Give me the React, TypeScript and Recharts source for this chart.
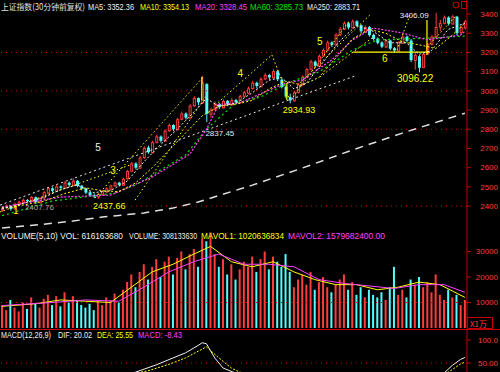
import React from "react";
import {
  Bar,
  Cell,
  ComposedChart,
  Line,
  ReferenceDot,
  ReferenceLine,
  XAxis,
  YAxis,
} from "recharts";

const UP = "#ff3c3c";
const DOWN = "#54fcfc";
const YEL = "#ffff00";
const MAG = "#ff40ff";
const GRN = "#00e600";
const AXIS = "#c00000";
const LABEL = "#ff3a3a";
const FONT = "'Liberation Sans', Arial, sans-serif";

// candles (index points, 上证指数)
const opens = [
  2378, 2392, 2402, 2386, 2408, 2418, 2432, 2424, 2446, 2418,
  2442, 2468, 2492, 2478, 2502, 2494, 2522, 2508, 2532, 2506,
  2492, 2472, 2456, 2448, 2462, 2474, 2488, 2506, 2522, 2508,
  2542, 2582, 2622, 2598, 2652, 2705, 2678, 2732, 2762, 2738,
  2792, 2822, 2798, 2852, 2882, 2858, 2922, 2962, 2938, 3035,
  2878, 2902, 2932, 2912, 2948, 2928, 2952, 2938, 2972, 2988,
  3012, 3042, 3022, 3062, 3082, 3068, 3102, 3058, 3022, 2968,
  2948, 2992, 3032, 3072, 3112, 3152, 3128, 3182, 3212, 3252,
  3238, 3292, 3322, 3352, 3328, 3362, 3342, 3308, 3332, 3292,
  3272, 3252, 3228, 3262, 3222, 3208, 3248, 3282, 3262, 3158,
  3180, 3122, 3192, 3242, 3282, 3332, 3352, 3382, 3348, 3386,
  3302, 3328,
];
const highs = [
  2398, 2408, 2405, 2418, 2428, 2440, 2436, 2452, 2450, 2445,
  2478, 2500, 2498, 2512, 2508, 2530, 2528, 2542, 2536, 2510,
  2495, 2478, 2466, 2468, 2484, 2498, 2512, 2528, 2526, 2548,
  2588, 2630, 2628, 2660, 2712, 2715, 2740, 2772, 2768, 2800,
  2830, 2826, 2860, 2892, 2888, 2930, 2972, 2966, 3078, 3040,
  2912, 2945, 2938, 2955, 2952, 2962, 2958, 2980, 3000, 3022,
  3052, 3048, 3072, 3092, 3088, 3112, 3108, 3064, 3030, 2985,
  3000, 3040, 3080, 3120, 3162, 3158, 3190, 3222, 3262, 3258,
  3302, 3332, 3362, 3358, 3372, 3368, 3346, 3340, 3338, 3298,
  3278, 3258, 3268, 3266, 3228, 3258, 3292, 3288, 3270, 3200,
  3186, 3200, 3250, 3290, 3406.09, 3370, 3392, 3388, 3396, 3390,
  3340, 3370,
];
const lows = [
  2370, 2384, 2376, 2382, 2400, 2412, 2415, 2420, 2410, 2412,
  2436, 2462, 2470, 2474, 2484, 2490, 2500, 2502, 2498, 2482,
  2462, 2448, 2442, 2437.66, 2455, 2468, 2482, 2500, 2502, 2505,
  2538, 2576, 2590, 2594, 2646, 2672, 2674, 2726, 2730, 2734,
  2786, 2790, 2794, 2846, 2850, 2854, 2916, 2925, 2932, 2837.45,
  2860, 2895, 2905, 2908, 2920, 2924, 2930, 2934, 2966, 2982,
  3006, 3012, 3018, 3055, 3058, 3064, 3050, 3012, 2960, 2934.93,
  2944, 2986, 3026, 3066, 3106, 3120, 3124, 3176, 3206, 3228,
  3234, 3286, 3316, 3320, 3324, 3332, 3300, 3302, 3282, 3262,
  3242, 3222, 3222, 3212, 3200, 3204, 3244, 3252, 3150, 3110,
  3096.22, 3118, 3186, 3236, 3276, 3310, 3346, 3340, 3344, 3290,
  3296, 3320,
];
const closes = [
  2390, 2400, 2385, 2410, 2420, 2430, 2425, 2445, 2420, 2440,
  2470, 2490, 2480, 2500, 2495, 2520, 2510, 2530, 2505, 2490,
  2470, 2455, 2450, 2460, 2475, 2490, 2505, 2520, 2510, 2540,
  2580, 2620, 2600, 2650, 2700, 2680, 2730, 2760, 2740, 2790,
  2820, 2800, 2850, 2880, 2860, 2920, 2960, 2940, 3040, 2880,
  2900, 2930, 2915, 2945, 2930, 2950, 2940, 2970, 2990, 3010,
  3040, 3025, 3060, 3080, 3070, 3100, 3060, 3020, 2970, 2950,
  2990, 3030, 3070, 3110, 3150, 3130, 3180, 3210, 3250, 3240,
  3290, 3320, 3350, 3330, 3360, 3340, 3310, 3330, 3290, 3270,
  3250, 3230, 3260, 3220, 3210, 3250, 3280, 3260, 3160, 3185,
  3120, 3190, 3240, 3280, 3330, 3350, 3380, 3350, 3385, 3300,
  3330, 3360,
];
// volume, 万
const volumes = [
  9000, 7000, 11000, 8000, 6500, 10000, 7500, 12000, 9500, 8000,
  11500, 13000, 9000, 12500, 8500, 14000, 10000, 12500, 11000, 9000,
  8000, 9500, 7000, 10500, 9000, 12000, 11000, 13500, 10000, 15000,
  18000, 21000, 16000, 22000, 25000, 19000, 24000, 27000, 20000, 26000,
  28000, 21000, 27500, 30000, 23000, 29000, 31000, 24000, 35000, 34000,
  37500, 29000, 24000, 27000, 21000, 25000, 19000, 23000, 26000, 24000,
  28000, 22000, 27000, 30000, 23000, 28000, 26000, 24000, 29000, 22000,
  16000, 19000, 21000, 17000, 22000, 15000, 18000, 20000, 16000, 14000,
  17000, 19000, 21000, 15000, 18000, 13000, 16000, 12000, 15000, 13000,
  12000, 14000, 11000, 16000, 24000, 13000, 15000, 12000, 19000, 17000,
  20000, 16000, 18000, 14000, 21000, 13000, 11000, 15000, 12000, 13000,
  9000, 11000,
];

// moving averages at a few bars: [bar, value]
const ma5Pts: [number, number][] = [
  [0, 2388], [2, 2395], [6, 2420], [10, 2445], [14, 2485], [18, 2510], [22, 2470],
  [26, 2480], [30, 2530], [34, 2630], [38, 2720], [42, 2800], [46, 2890], [49, 2960],
  [52, 2920], [56, 2935], [60, 2990], [64, 3055], [67, 3070], [70, 3010], [73, 3040],
  [77, 3150], [81, 3260], [85, 3340], [89, 3310], [93, 3250], [97, 3250], [100, 3190],
  [103, 3210], [107, 3320], [111, 3352.36],
];
const ma10Pts: [number, number][] = [
  [0, 2390], [5, 2405], [10, 2425], [15, 2465], [20, 2495], [24, 2480], [28, 2475],
  [32, 2520], [36, 2600], [40, 2690], [44, 2780], [48, 2870], [52, 2920], [56, 2930],
  [60, 2950], [64, 3010], [68, 3050], [72, 3030], [76, 3070], [80, 3170], [84, 3270],
  [88, 3320], [92, 3300], [96, 3255], [100, 3240], [104, 3220], [108, 3290], [111, 3354.13],
];
const ma20Pts: [number, number][] = [
  [0, 2395], [14, 2447], [26, 2457], [36, 2551], [45, 2670], [49, 2800], [52, 2930],
  [57, 2937], [68, 3041], [72, 3056], [79, 3160], [84, 3265], [89, 3327], [96, 3301],
  [102, 3265], [110, 3291], [111, 3310],
];
const ma60Pts: [number, number][] = [
  [0, 2350], [12, 2426], [27, 2468], [32, 2509], [38, 2588], [44, 2666], [49, 2800],
  [56, 2936], [62, 2968], [69, 3046], [76, 3098], [84, 3212], [90, 3265], [96, 3270],
  [103, 3275], [111, 3285.73],
];
const ma250Pts: [number, number][] = [
  [0, 2286], [8, 2301], [17, 2322], [24, 2343], [34, 2364], [41, 2390], [47, 2421],
  [60, 2509], [72, 2598], [84, 2692], [96, 2780], [111, 2883.71],
];
const mavol1Pts: [number, number][] = [
  [0, 8500], [8, 9500], [14, 11000], [20, 10500], [26, 10000], [31, 16000], [36, 22000],
  [41, 25000], [46, 29000], [50, 32000], [55, 26000], [60, 24000], [65, 26000],
  [70, 22000], [75, 19000], [80, 17000], [85, 17000], [90, 15000], [95, 16000],
  [100, 18000], [105, 17000], [111, 12000],
];
const mavol2Pts: [number, number][] = [
  [0, 8800], [12, 10000], [20, 11000], [28, 10500], [34, 16000], [40, 22000],
  [46, 26000], [52, 29000], [58, 25000], [64, 25000], [70, 24000], [76, 19000],
  [82, 17500], [88, 16500], [94, 15500], [100, 17000], [106, 17000], [111, 14000],
];
const difPts: [number, number][] = [
  [0, 5], [20, 10], [32, 30], [37, 46], [41, 61], [44, 72], [47, 88], [48, 94], [49, 92],
  [51, 61], [53, 39], [56, 28], [60, 22], [70, 10], [80, 15], [90, 12], [100, 5],
  [106, 28], [108, 45], [110, 58], [111, 62],
];
const deaPts: [number, number][] = [
  [0, 3], [20, 8], [35, 33], [40, 47], [44, 61], [49, 85], [52, 61], [55, 39], [57, 30],
  [65, 20], [80, 14], [100, 8], [107, 30], [110, 48], [111, 52],
];

const priceTicks = [2400, 2500, 2600, 2700, 2800, 2900, 3000, 3100, 3200, 3300, 3400];
const priceDotted = [2400, 2800, 3000, 3200];
const volTicks = [10000, 20000, 30000];
const macdTicks = [50, 100];

// drawing objects on the price panel: [bar, price] pairs
const yellowDots: [number, number][][] = [
  [[22.3, 2442], [48.2, 3072]],
  [[31.9, 2431], [49.1, 2978]],
  [[-0.5, 2369], [30.7, 2614]],
  [[51.1, 2926], [64.7, 3187]],
  [[64.7, 3187], [69.0, 2952]],
  [[69.8, 2968], [83.4, 3369]],
  [[71.4, 3041], [88.2, 3395]],
  [[76.2, 3072], [89.0, 3280]],
  [[94.7, 3212], [97.8, 3395]],
  [[101.9, 3228], [109.1, 3395]],
];
const yellowSolid: [number, number][][] = [
  [[84.2, 3202], [102.6, 3202]],
  [[101.9, 3369], [101.9, 3187]],
  [[47.9, 3072], [47.9, 2952]],
  [[68.3, 3041], [68.3, 2952]],
];
const whiteTrend: [number, number][] = [[-0.5, 2405], [84.6, 3077]];

type Mark = { i: number; p: number; text: string; color: string; dx: number; dy: number; size: number; anchor?: string };
const marks: Mark[] = [
  { i: 5, p: 2412, text: "2407.76", color: "#a8a8a8", dx: 2, dy: 6, size: 8 },
  { i: 23, p: 2437.66, text: "2437.66", color: YEL, dx: -5, dy: 10, size: 9 },
  { i: 49, p: 2837.45, text: "2837.45", color: "#e8e8e8", dx: -1, dy: 14, size: 8 },
  { i: 69, p: 2934.93, text: "2934.93", color: YEL, dx: -7, dy: 10, size: 9 },
  { i: 100, p: 3096.22, text: "3096.22", color: YEL, dx: -22, dy: 10, size: 10 },
  { i: 104, p: 3406.09, text: "3406.09", color: "#f0f0f0", dx: -36, dy: 5, size: 8 },
  { i: 3.3, p: 2379, text: "1", color: YEL, dx: 0, dy: 4, size: 10, anchor: "middle" },
  { i: 26.6, p: 2588, text: "3", color: YEL, dx: 0, dy: 4, size: 10, anchor: "middle" },
  { i: 23, p: 2707, text: "5", color: "#f0f0f0", dx: 0, dy: 4, size: 10, anchor: "middle" },
  { i: 57.1, p: 3093, text: "4", color: YEL, dx: 0, dy: 4, size: 10, anchor: "middle" },
  { i: 76.2, p: 3259, text: "5", color: YEL, dx: 0, dy: 4, size: 10, anchor: "middle" },
  { i: 91.8, p: 3171, text: "6", color: YEL, dx: 0, dy: 4, size: 10, anchor: "middle" },
];

const N = closes.length;

const rows = closes.map((c, i) => ({
  i,
  range: [lows[i], highs[i]],
  o: opens[i],
  h: highs[i],
  l: lows[i],
  c,
  up: c >= opens[i],
  v: volumes[i],
}));

const pts = (p: [number, number][]) => p.map(([i, v]) => ({ i, v }));

function Candle(props: any) {
  const { x, y, width, height, payload } = props;
  if (!payload) return null;
  const { o, c, h, l, up } = payload;
  const color = up ? UP : DOWN;
  const k = height / (h - l || 1);
  const yo = y + (h - o) * k;
  const yc = y + (h - c) * k;
  const top = Math.min(yo, yc);
  const bh = Math.max(Math.abs(yc - yo), 1);
  const cx = x + width / 2;
  return (
    <g>
      <line x1={cx} x2={cx} y1={y} y2={y + height} stroke={color} strokeWidth={1} />
      {up ? (
        <rect x={x + 0.5} y={top} width={width - 1} height={bh} fill="#000" stroke={color} strokeWidth={1} />
      ) : (
        <rect x={x} y={top} width={width} height={bh} fill={color} />
      )}
    </g>
  );
}

function markShape(m: Mark) {
  return (p: any) => (
    <text
      x={p.cx + m.dx}
      y={p.cy + m.dy}
      fill={m.color}
      fontSize={m.size}
      fontFamily={FONT}
      textAnchor={m.anchor || "start"}
    >
      {m.text}
    </text>
  );
}

const xAxis = <XAxis dataKey="i" type="number" domain={[-0.5, N - 0.5]} hide allowDataOverflow />;

function rightAxis(domain: number[], ticks: number[], fmt: (v: number) => string = (v) => String(v)) {
  return (
    <YAxis
      orientation="right"
      width={33}
      domain={domain}
      ticks={ticks}
      interval={0}
      allowDataOverflow
      axisLine={{ stroke: AXIS }}
      tickLine={{ stroke: AXIS }}
      tickSize={4}
      tick={(p: any) => (
        <text x={498} y={p.y} dy="0.35em" textAnchor="end" fill={LABEL} fontSize={8} fontFamily={FONT}>
          {fmt(p.payload.value)}
        </text>
      )}
    />
  );
}

function MaLine({ data, color, width = 1, dash }: { data: [number, number][]; color: string; width?: number; dash?: string }) {
  return null;
}

const line = (key: string, data: [number, number][], color: string, width: number, dash?: string) => (
  <Line
    key={key}
    data={pts(data)}
    dataKey="v"
    type="linear"
    stroke={color}
    strokeWidth={width}
    strokeDasharray={dash}
    dot={false}
    activeDot={false}
    isAnimationActive={false}
  />
);

const headerPrice = [
  { x: 1, w: 84, text: "上证指数(30分钟前复权)", color: "#e0e0e0", cjk: true },
  { x: 88, w: 46, text: "MA5: 3352.36", color: "#f0f0f0" },
  { x: 140, w: 49, text: "MA10: 3354.13", color: YEL },
  { x: 195, w: 52, text: "MA20: 3328.45", color: MAG },
  { x: 250, w: 53, text: "MA60: 3285.73", color: GRN },
  { x: 307, w: 53, text: "MA250: 2883.71", color: "#f0f0f0" },
];
const headerVol = [
  { x: 1, w: 122, text: "VOLUME(5,10) VOL: 616163680", color: "#f0f0f0" },
  { x: 129, w: 68, text: "VOLUME: 308133630", color: "#f0f0f0" },
  { x: 201, w: 83, text: "MAVOL1: 1020636834", color: YEL },
  { x: 288, w: 97, text: "MAVOL2: 1579682400.00", color: MAG },
];
const headerMacd = [
  { x: 1, w: 50, text: "MACD(12,26,9)", color: "#f0f0f0" },
  { x: 58, w: 34, text: "DIF: 20.02", color: "#f0f0f0" },
  { x: 97, w: 36, text: "DEA: 25.55", color: YEL },
  { x: 138, w: 44, text: "MACD: -8.43", color: MAG },
];

function HeaderRow({ items, y }: { items: any[]; y: number }) {
  return (
    <>
      {items.map((t) => (
        <text
          key={t.text}
          x={t.x}
          y={y}
          fill={t.color}
          fontSize={t.cjk ? 8.5 : 8.5}
          fontFamily={t.cjk ? "'Noto Sans CJK SC', sans-serif" : FONT}
          textLength={t.w}
          lengthAdjust="spacingAndGlyphs"
        >
          {t.text}
        </text>
      ))}
    </>
  );
}

export default function App() {
  const abs = (top: number): React.CSSProperties => ({ position: "absolute", left: 0, top });
  return (
    <div
      style={{
        position: "absolute",
        left: 0,
        top: 0,
        width: 500,
        height: 372,
        background: "#000",
        overflow: "hidden",
        fontFamily: FONT,
      }}
    >
      <div style={abs(0)}>
        <ComposedChart width={500} height={232} data={rows} margin={{ top: 0, right: 0, bottom: 0, left: 0 }}>
          {xAxis}
          {rightAxis([2265, 3473], priceTicks)}
          {priceDotted.map((p) => (
            <ReferenceLine key={p} y={p} stroke="#d00000" strokeDasharray="1 4" />
          ))}
          {line("ma250", ma250Pts, "#e0e0e0", 1.5, "8 6")}
          <ReferenceLine
            segment={whiteTrend.map(([x, y]) => ({ x, y }))}
            stroke="#e8e8e8"
            strokeDasharray="2 3"
          />
          {yellowDots.map((s, k) => (
            <ReferenceLine key={"yd" + k} segment={s.map(([x, y]) => ({ x, y }))} stroke={YEL} strokeDasharray="1.5 2.5" />
          ))}
          {yellowSolid.map((s, k) => (
            <ReferenceLine key={"ys" + k} segment={s.map(([x, y]) => ({ x, y }))} stroke={YEL} strokeWidth={1.2} />
          ))}
          {line("ma60", ma60Pts, GRN, 1.2, "2 3")}
          {line("ma20", ma20Pts, MAG, 1.2, "2 1.5")}
          {line("ma10", ma10Pts, YEL, 1, "2 2")}
          {line("ma5", ma5Pts, "#f0f0f0", 1, "2 2")}
          <Bar dataKey="range" barSize={3} shape={<Candle />} isAnimationActive={false} />
          {marks.map((m, k) => (
            <ReferenceDot key={"m" + k} x={m.i} y={m.p} r={0} shape={markShape(m)} />
          ))}
        </ComposedChart>
      </div>

      <div style={abs(232)}>
        <ComposedChart width={500} height={97} data={rows} margin={{ top: 0, right: 0, bottom: 1, left: 0 }}>
          {xAxis}
          {rightAxis([0, 37650], volTicks)}
          <ReferenceLine y={10000} stroke="#d00000" strokeDasharray="1 4" />
          <Bar dataKey="v" barSize={2} isAnimationActive={false}>
            {rows.map((r) => (
              <Cell key={r.i} fill={r.up ? UP : DOWN} />
            ))}
          </Bar>
          {line("mavol1", mavol1Pts, YEL, 1)}
          {line("mavol2", mavol2Pts, MAG, 1)}
        </ComposedChart>
      </div>

      <div style={abs(329)}>
        <ComposedChart width={500} height={43} data={rows} margin={{ top: 0, right: 0, bottom: 0, left: 0 }}>
          {xAxis}
          {rightAxis([30.4, 123.9], macdTicks, (v) => (v >= 100 ? v.toFixed(1) : v.toFixed(2)))}
          <ReferenceLine y={50} stroke="#d00000" strokeDasharray="1 4" />
          {line("dif", difPts, "#f0f0f0", 1)}
          {line("dea", deaPts, YEL, 1, "2 1.5")}
        </ComposedChart>
      </div>

      <svg width={500} height={372} style={{ position: "absolute", left: 0, top: 0, pointerEvents: "none" }}>
        <HeaderRow items={headerPrice} y={10} />
        <HeaderRow items={headerVol} y={239} />
        <HeaderRow items={headerMacd} y={338} />
        <line x1={0} x2={500} y1={329.5} y2={329.5} stroke={AXIS} />
        <rect x={467.5} y={317.5} width={25} height={11} fill="none" stroke={AXIS} />
        <text x={470} y={326.5} fill={LABEL} fontSize={8} fontFamily="'Noto Sans CJK SC', sans-serif">X1万</text>
        <circle cx={456} cy={5} r={3} fill="none" stroke={AXIS} />
        <rect x={461.5} y={1.5} width={5} height={7} fill="none" stroke={AXIS} />
      </svg>
    </div>
  );
}
